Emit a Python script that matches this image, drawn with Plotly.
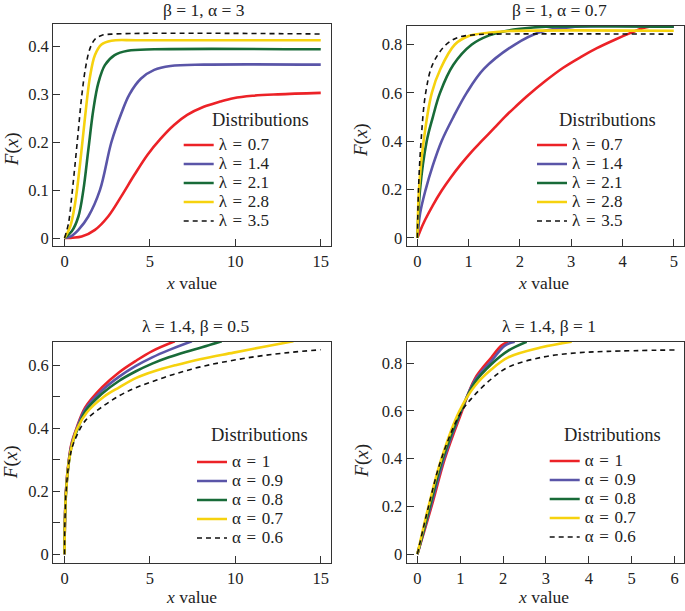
"""
Four CDF panels: F(x) for several lambda / alpha values.
"""

import plotly.graph_objects as go
from plotly.subplots import make_subplots


W, H = 685, 611
SERIF = "Liberation Serif, Times New Roman, serif"
SP = "\u2004"

COLORS = ["#ec2227", "#5a55a8", "#186b38", "#f6d20e", "#111111"]
LAMBDA_NAMES = ["λ = 0.7", "λ = 1.4", "λ = 2.1", "λ = 2.8", "λ = 3.5"]
ALPHA_NAMES = ["α = 1", "α = 0.9", "α = 0.8", "α = 0.7", "α = 0.6"]

# --- top left: beta = 1, alpha = 3 ---
tl_x_l07 = [0, 1.0, 1.78, 2.55, 3.32, 4.09, 4.86, 5.64, 6.41, 7.18, 8.15, 9.11, 9.88, 11.0, 12.5, 15]
tl_y_l07 = [0, 0.003, 0.017, 0.045, 0.087, 0.132, 0.174, 0.208, 0.236, 0.257, 0.274, 0.285, 0.292, 0.297, 0.300, 0.303]
tl_x_l14 = [0, 0.4, 0.81, 1.39, 2.07, 2.74, 3.32, 3.80, 4.48, 5.25, 6.2, 8.15, 15]
tl_y_l14 = [0, 0.004, 0.017, 0.045, 0.10, 0.20, 0.26, 0.30, 0.333, 0.351, 0.359, 0.362, 0.362]
tl_x_l21 = [0, 0.42, 0.81, 1.10, 1.39, 1.68, 1.97, 2.36, 2.93, 3.7, 5.25, 15]
tl_y_l21 = [0, 0.014, 0.045, 0.10, 0.184, 0.267, 0.323, 0.361, 0.382, 0.391, 0.394, 0.394]
tl_x_l28 = [0, 0.33, 0.62, 0.91, 1.2, 1.49, 1.78, 2.16, 2.74, 4.29, 15]
tl_y_l28 = [0, 0.024, 0.073, 0.156, 0.253, 0.337, 0.382, 0.404, 0.412, 0.413, 0.413]
tl_x_l35 = [0, 0.23, 0.42, 0.62, 0.81, 1.0, 1.24, 1.49, 1.78, 2.16, 2.93, 15]
tl_y_l35 = [0, 0.031, 0.087, 0.156, 0.226, 0.295, 0.358, 0.396, 0.415, 0.423, 0.426, 0.426]

# --- top right: beta = 1, alpha = 0.7 ---
tr_x_l07 = [0, 0.05, 0.15, 0.3, 0.47, 0.65, 0.85, 1.05, 1.25, 1.5, 1.7, 1.9, 2.13,
            2.5, 2.85, 3.2, 3.5, 3.85, 4.15, 4.47, 5]
tr_y_l07 = [0, 0.028, 0.075, 0.135, 0.195, 0.25, 0.305, 0.355, 0.4, 0.455, 0.5, 0.54, 0.585,
            0.65, 0.705, 0.75, 0.785, 0.82, 0.847, 0.872, 0.874]
tr_x_l14 = [0, 0.05, 0.16, 0.3, 0.47, 0.7, 0.96, 1.3, 1.9, 2.4, 3.0, 5]
tr_y_l14 = [0, 0.1, 0.2, 0.3, 0.4, 0.5, 0.6, 0.7, 0.8, 0.852, 0.872, 0.874]
tr_x_l21 = [0, 0.05, 0.18, 0.3, 0.44, 0.7, 1.06, 1.4, 1.7, 2.0, 2.5, 5]
tr_y_l21 = [0, 0.2, 0.4, 0.5, 0.6, 0.716, 0.8, 0.838, 0.855, 0.865, 0.874, 0.874]
tr_x_l28 = [0, 0.03, 0.12, 0.28, 0.45, 0.73, 1.0, 1.38, 1.8, 5]
tr_y_l28 = [0, 0.2, 0.4, 0.6, 0.7, 0.8, 0.835, 0.849, 0.856, 0.857]
tr_x_l35 = [0, 0.02, 0.07, 0.16, 0.3, 0.56, 0.8, 1.1, 1.5, 5]
tr_y_l35 = [0, 0.2, 0.4, 0.6, 0.72, 0.8, 0.83, 0.84, 0.843, 0.843]

# --- bottom left: lambda = 1.4, beta = 0.5 ---
bl_x_a10 = [0, 0.02, 0.08, 0.25, 0.4, 0.7, 1.2, 2.2, 3.18, 4.15, 5.13, 6.45]
bl_y_a10 = [0, 0.1, 0.2, 0.3, 0.35, 0.4, 0.465, 0.53, 0.577, 0.613, 0.645, 0.676]
bl_x_a09 = [0, 0.02, 0.08, 0.26, 0.42, 0.72, 1.2, 2.2, 3.18, 4.15, 5.13, 6.1, 7.45]
bl_y_a09 = [0, 0.1, 0.2, 0.3, 0.35, 0.4, 0.46, 0.52, 0.563, 0.597, 0.625, 0.648, 0.676]
bl_x_a08 = [0, 0.02, 0.09, 0.27, 0.45, 0.78, 1.23, 2.2, 3.18, 4.15, 5.13, 6.1, 7.08, 8.05, 9.2]
bl_y_a08 = [0, 0.1, 0.2, 0.3, 0.35, 0.4, 0.455, 0.51, 0.55, 0.58, 0.605, 0.625, 0.642, 0.657, 0.676]
bl_x_a07 = [0, 0.02, 0.09, 0.27, 0.45, 0.75, 1.3, 2.3, 3.2, 4.2, 5.2, 6.5, 8.0, 9.9, 11.6, 13.4]
bl_y_a07 = [0, 0.1, 0.2, 0.3, 0.35, 0.4, 0.45, 0.5, 0.53, 0.56, 0.58, 0.6, 0.62, 0.64, 0.658, 0.676]
bl_x_a06 = [0, 0.02, 0.09, 0.28, 0.45, 0.7, 1.23, 2.2, 3.2, 4.15, 5.13, 6.1, 7.08, 8.05, 9.2, 11.15, 13.1, 15]
bl_y_a06 = [0, 0.1, 0.2, 0.3, 0.34, 0.375, 0.425, 0.468, 0.503, 0.528, 0.548, 0.566, 0.582, 0.596,
            0.609, 0.627, 0.64, 0.649]

# --- bottom right: lambda = 1.4, beta = 1 ---
br_x_a10 = [0, 0.33, 0.64, 1.0, 1.34, 1.73, 1.96, 2.12]
br_y_a10 = [0, 0.2, 0.4, 0.58, 0.735, 0.825, 0.874, 0.89]
br_x_a09 = [0, 0.31, 0.62, 1.0, 1.34, 1.73, 2.04, 2.27]
br_y_a09 = [0, 0.2, 0.4, 0.59, 0.728, 0.81, 0.874, 0.89]
br_x_a08 = [0, 0.29, 0.59, 1.0, 1.34, 1.73, 2.12, 2.55]
br_y_a08 = [0, 0.2, 0.4, 0.595, 0.72, 0.797, 0.853, 0.89]
br_x_a07 = [0, 0.26, 0.56, 0.98, 1.34, 1.73, 2.12, 2.9, 3.6]
br_y_a07 = [0, 0.2, 0.4, 0.6, 0.705, 0.775, 0.825, 0.867, 0.89]
br_x_a06 = [0, 0.26, 0.56, 1.0, 1.3, 1.73, 2.12, 2.9, 3.68, 4.45, 6.0]
br_y_a06 = [0, 0.2, 0.4, 0.59, 0.66, 0.735, 0.784, 0.825, 0.843, 0.85, 0.856]

TITLES = ["β = 1, α = 3", "β = 1, α = 0.7", "λ = 1.4, β = 0.5", "λ = 1.4, β = 1"]


def px(x):
    return x / W


def py(y):
    return 1 - y / H


panels = [
    dict(row=1, col=1, legend="legend", names=LAMBDA_NAMES,
         curves=[(tl_x_l07, tl_y_l07), (tl_x_l14, tl_y_l14), (tl_x_l21, tl_y_l21),
                 (tl_x_l28, tl_y_l28), (tl_x_l35, tl_y_l35)]),
    dict(row=1, col=2, legend="legend2", names=LAMBDA_NAMES,
         curves=[(tr_x_l07, tr_y_l07), (tr_x_l14, tr_y_l14), (tr_x_l21, tr_y_l21),
                 (tr_x_l28, tr_y_l28), (tr_x_l35, tr_y_l35)]),
    dict(row=2, col=1, legend="legend3", names=ALPHA_NAMES,
         curves=[(bl_x_a10, bl_y_a10), (bl_x_a09, bl_y_a09), (bl_x_a08, bl_y_a08),
                 (bl_x_a07, bl_y_a07), (bl_x_a06, bl_y_a06)]),
    dict(row=2, col=2, legend="legend4", names=ALPHA_NAMES,
         curves=[(br_x_a10, br_y_a10), (br_x_a09, br_y_a09), (br_x_a08, br_y_a08),
                 (br_x_a07, br_y_a07), (br_x_a06, br_y_a06)]),
]

fig = make_subplots(rows=2, cols=2)

for p in panels:
    for i, ((xs, ys), name) in enumerate(zip(p["curves"], p["names"])):
        dashed = i == 4
        label = name.replace(" ", SP)
        fig.add_trace(
            go.Scatter(
                x=xs, y=ys, mode="lines", name=f"<span style='font-size:17px'>{label}</span>",
                line=dict(color=COLORS[i], width=1.6 if dashed else 2.6,
                          dash="5px,4px" if dashed else "solid",
                          shape="spline", smoothing=1.0),
                legend=p["legend"],
            ),
            row=p["row"], col=p["col"],
        )

# plot boxes in pixels: (left, right, top, bottom)
boxes = [(53.3, 331, 24, 247), (406.7, 683.5, 26, 246.7),
         (53.3, 331, 342.7, 565), (406.7, 683.5, 342.7, 565)]
x_ranges = [[-0.66, 15.6], [-0.21, 5.19], [-0.66, 15.6], [-0.25, 6.21]]
y_ranges = [[-0.017, 0.447], [-0.033, 0.877], [-0.028, 0.675], [-0.038, 0.891]]
x_ticks = [[0, 5, 10, 15], [0, 1, 2, 3, 4, 5], [0, 5, 10, 15], [0, 1, 2, 3, 4, 5, 6]]
y_ticks = [[0, 0.1, 0.2, 0.3, 0.4], [0, 0.2, 0.4, 0.6, 0.8],
           [0, 0.1, 0.2, 0.3, 0.4, 0.5, 0.6], [0, 0.2, 0.4, 0.6, 0.8]]
y_text = [["0", "0.1", "0.2", "0.3", "0.4"], ["0", "0.2", "0.4", "0.6", "0.8"],
          ["0", "", "0.2", "", "0.4", "", "0.6"], ["0", "0.2", "0.4", "0.6", "0.8"]]

axis_style = dict(showline=True, linecolor="#333333", linewidth=1.3, mirror=True,
                  ticks="inside", ticklen=7, tickwidth=1.2, tickcolor="#333333",
                  showgrid=False, zeroline=False,
                  tickfont=dict(family=SERIF, size=16.5, color="#222222"))

for k, (l, r, t, b) in enumerate(boxes):
    suffix = "" if k == 0 else str(k + 1)
    fig.layout["xaxis" + suffix].update(
        domain=[px(l), px(r)], range=x_ranges[k], tickvals=x_ticks[k], **axis_style)
    fig.layout["yaxis" + suffix].update(
        domain=[py(b), py(t)], range=y_ranges[k], tickvals=y_ticks[k],
        ticktext=y_text[k], **axis_style)

legend_style = dict(xanchor="left", yanchor="top", bgcolor="rgba(0,0,0,0)",
                    font=dict(family=SERIF, size=12, color="#222222"),
                    itemwidth=30, tracegroupgap=0)
legend_pos = [(178.7, 131), (532, 131), (192, 449), (544.7, 448)]
for k, (lx, ly) in enumerate(legend_pos):
    key = "legend" if k == 0 else f"legend{k + 1}"
    fig.update_layout({key: dict(x=px(lx), y=py(ly), **legend_style)})

annotations = []
title_pos = [(204, 10), (559, 10), (195, 326.7), (549, 326.7)]
for text, (tx, ty) in zip(TITLES, title_pos):
    annotations.append(dict(text=text, x=px(tx), y=py(ty), size=17.5))
for dx, dy in [(260, 120), (607.5, 120), (259, 436.7), (612, 436.7)]:
    annotations.append(dict(text="Distributions", x=px(dx), y=py(dy), size=18.5))
for ax_x, ax_y in [(191.7, 284), (543, 284), (191.7, 599), (543, 599)]:
    annotations.append(dict(text="<i>x</i> value", x=px(ax_x), y=py(ax_y), size=17.5))
for fx, fy in [(11.7, 150), (361.7, 140.8), (11.7, 464), (361.7, 462.5)]:
    annotations.append(dict(text="<i>F</i>(<i>x</i>)", x=px(fx), y=py(fy), size=19, angle=-90))

fig.update_layout(
    annotations=[
        dict(text=a["text"], x=a["x"], y=a["y"], xref="paper", yref="paper",
             xanchor="center", yanchor="middle", showarrow=False,
             textangle=a.get("angle", 0),
             font=dict(family=SERIF, size=a["size"], color="#222222"))
        for a in annotations
    ],
    width=W,
    height=H,
    margin=dict(l=0, r=0, t=0, b=0),
    paper_bgcolor="white",
    plot_bgcolor="white",
    font=dict(family=SERIF, color="#222222"),
)

fig.write_html("out.html", config={"displayModeBar": False},
               post_script="document.body.style.margin='0px';")
